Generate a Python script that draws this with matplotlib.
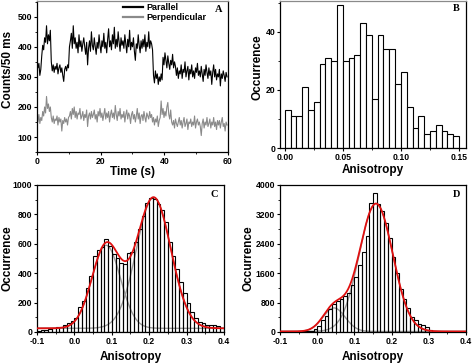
import numpy as np
import matplotlib
matplotlib.use("Agg")
import matplotlib.pyplot as plt
from matplotlib.ticker import MultipleLocator

plt.rcParams['font.family'] = ['Liberation Sans', 'DejaVu Sans']
plt.rcParams['font.weight'] = 'bold'

# ---- panel A: intensity traces (0.3 s samples) ----
parallel = [
    350, 330, 345, 305, 325, 370, 405, 390, 430, 415,
    470, 410, 440, 420, 455, 350, 320, 340, 315, 335,
    325, 345, 310, 330, 340, 315, 330, 305, 285, 325,
    335, 320, 340, 330, 400, 420, 445, 395, 470, 410,
    430, 395, 415, 380, 440, 400, 420, 385, 410, 430,
    400, 375, 415, 340, 395, 420, 385, 450, 405, 390,
    430, 400, 375, 415, 395, 440, 405, 380, 420, 400,
    445, 395, 415, 380, 425, 460, 400, 420, 390, 440,
    410, 465, 395, 425, 400, 450, 415, 385, 430, 405,
    420, 395, 440, 410, 380, 425, 400, 455, 390, 415,
    400, 430, 385, 355, 410, 395, 440, 405, 380, 420,
    395, 425, 400, 440, 385, 415, 400, 450, 395, 420,
    410, 390, 305, 280, 320, 295, 310, 275, 300, 285,
    310, 290, 365, 340, 380, 355, 330, 370, 345, 325,
    355, 340, 375, 330, 350, 335, 305, 330, 295, 320,
    310, 340, 295, 325, 315, 350, 300, 320, 335, 290,
    325, 310, 340, 300, 320, 295, 330, 315, 345, 305,
    320, 300, 335, 310, 285, 325, 305, 340, 315, 295,
    330, 305, 320, 275, 315, 340, 300, 325, 290, 310,
    300, 325, 270, 310, 295, 320, 305, 285, 315, 300,
]
perpendicular = [
    160, 150, 175, 145, 165, 155, 185, 170, 200, 180,
    235, 195, 210, 185, 200, 165, 150, 170, 145, 160,
    155, 170, 140, 165, 150, 160, 120, 155, 145, 165,
    150, 160, 140, 165, 170, 185, 160, 195, 175, 200,
    165, 185, 160, 180, 175, 195, 160, 170, 185, 155,
    175, 165, 190, 135, 170, 180, 160, 185, 165, 175,
    190, 160, 175, 150, 185, 170, 195, 165, 180, 155,
    175, 195, 160, 180, 165, 185, 150, 175, 190, 165,
    180, 160, 205, 175, 155, 185, 170, 195, 160, 175,
    165, 185, 150, 175, 190, 160, 180, 170, 145, 175,
    185, 160, 175, 150, 170, 195, 160, 180, 145, 170,
    175, 155, 185, 165, 150, 180, 170, 160, 185, 165,
    175, 150, 165, 140, 160, 150, 170, 135, 155, 165,
    220, 175, 195, 165, 185, 170, 200, 215, 175, 160,
    190, 150, 140, 155, 130, 160, 145, 135, 150, 165,
    140, 155, 130, 150, 165, 135, 145, 160, 125, 150,
    145, 160, 135, 150, 140, 170, 130, 150, 160, 140,
    150, 135, 105, 145, 160, 130, 150, 140, 165, 135,
    145, 160, 130, 150, 140, 165, 135, 150, 125, 155,
    140, 155, 130, 150, 165, 135, 145, 120, 150, 140,
]
time_s = np.arange(len(parallel)) * 0.3

# ---- panel B: anisotropy histogram (bin width 0.005 from 0) ----
b_counts = [13, 11, 11, 21, 13, 16, 29, 31, 30, 49,
            30, 31, 32, 43, 39, 17, 39, 34, 34, 22,
            26, 14, 7, 11, 5, 6, 8, 6, 5, 4]
b_width = 0.005

# ---- panel C: anisotropy histogram (bin width 0.01 from -0.1) ----
c_counts = [8, 12, 15, 20, 28, 33, 36, 45, 62, 72,
            95, 170, 210, 300, 380, 515, 555, 580, 635, 585,
            530, 500, 470, 460, 540, 545, 610, 700, 790, 880,
            910, 905, 870, 830, 750, 610, 520, 430, 340, 265,
            195, 135, 95, 70, 58, 50, 45, 45, 40, 28]
# gaussian fit: baseline, (amplitude, centre, sigma) per component
c_base = 25
c_peaks = [(565, 0.085, 0.038), (890, 0.212, 0.046)]

# ---- panel D ----
d_counts = [5, 5, 8, 10, 12, 15, 18, 22, 30, 70,
            160, 320, 430, 630, 770, 850, 900, 990, 1060, 1270,
            1500, 1820, 2180, 2620, 3500, 3770, 3470, 3300, 2960, 2560,
            2040, 1600, 1180, 900, 660, 420, 320, 230, 190, 130,
            60, 40, 20, 10, 8, 5, 5, 3, 3, 2]
d_base = 15
d_peaks = [(640, 0.045, 0.030), (3480, 0.158, 0.045)]
cd_width = 0.01
cd_start = -0.1

fig = plt.figure(figsize=(4.74, 3.63), dpi=100)
axA = fig.add_axes([0.078, 0.581, 0.403, 0.416])
axB = fig.add_axes([0.591, 0.592, 0.392, 0.405])
axC = fig.add_axes([0.078, 0.0854, 0.3945, 0.405])
axD = fig.add_axes([0.591, 0.0854, 0.392, 0.405])

tick_fs = 6.2
lab_fs = 8.5
letter_font = dict(family='Liberation Serif', weight='bold', size=7.5)


def style(ax):
    for s in ax.spines.values():
        s.set_linewidth(0.9)
    ax.tick_params(which='major', direction='out', length=2.5, width=0.8,
                   labelsize=tick_fs, pad=1)
    ax.tick_params(which='minor', direction='out', length=1.5, width=0.6)
    for t in ax.get_xticklabels() + ax.get_yticklabels():
        t.set_fontweight('bold')


# A
axA.plot(time_s, parallel, color='black', lw=0.8, label='Parallel')
axA.plot(time_s, perpendicular, color='#8a8a8a', lw=0.8, label='Perpendicular')
axA.set_xlim(0, 60)
axA.set_ylim(50, 552)
axA.xaxis.set_major_locator(MultipleLocator(20))
axA.xaxis.set_minor_locator(MultipleLocator(10))
axA.yaxis.set_major_locator(MultipleLocator(100))
axA.yaxis.set_minor_locator(MultipleLocator(50))
axA.set_xlabel('Time (s)', fontsize=lab_fs, fontweight='bold')
axA.set_ylabel('Counts/50 ms', fontsize=lab_fs, fontweight='bold')
axA.xaxis.set_label_coords(0.5, -0.095)
axA.yaxis.set_label_coords(-0.12, 0.55)
leg = axA.legend(loc='upper right', bbox_to_anchor=(0.92, 1.03), frameon=False,
                 fontsize=6.5, handlelength=2.2, handletextpad=0.4,
                 labelspacing=0.15, borderpad=0.2)
for t in leg.get_texts():
    t.set_fontweight('bold')
for h in leg.get_lines():
    h.set_linewidth(1.6)
axA.text(0.93, 0.93, 'A', transform=axA.transAxes, **letter_font)
axA.spines['top'].set_color('#8a8a8a')
axA.spines['top'].set_linewidth(2)
style(axA)

# B
b_edges = np.arange(len(b_counts)) * b_width
axB.bar(b_edges, b_counts, width=b_width, align='edge', color='white',
        edgecolor='black', linewidth=0.8)
axB.set_xlim(-0.004, 0.156)
axB.set_ylim(0, 50.5)
axB.xaxis.set_major_locator(MultipleLocator(0.05))
axB.xaxis.set_minor_locator(MultipleLocator(0.025))
axB.yaxis.set_major_locator(MultipleLocator(20))
axB.yaxis.set_minor_locator(MultipleLocator(10))
axB.set_xticks([0, 0.05, 0.10, 0.15])
axB.set_xticklabels(['0.00', '0.05', '0.10', '0.15'])
axB.set_xlabel('Anisotropy', fontsize=lab_fs, fontweight='bold')
axB.set_ylabel('Occurrence', fontsize=lab_fs, fontweight='bold')
axB.xaxis.set_label_coords(0.5, -0.108)
axB.yaxis.set_label_coords(-0.091, 0.55)
axB.text(0.93, 0.93, 'B', transform=axB.transAxes, **letter_font)
axB.spines['top'].set_color('#8a8a8a')
axB.spines['top'].set_linewidth(2)
style(axB)


def hist_fit(ax, counts, base, peaks, ymax, ystep, letter, ylab_x):
    edges = cd_start + np.arange(len(counts)) * cd_width
    xs = np.linspace(-0.1, 0.4, 400)
    comps = [a * np.exp(-(xs - m) ** 2 / (2 * s ** 2)) for a, m, s in peaks]
    for c in comps:
        ax.plot(xs, base + c, color='#9a9a9a', lw=1.0, zorder=1)
    ax.bar(edges, counts, width=cd_width, align='edge', fill=False,
           edgecolor='black', linewidth=0.8, zorder=2)
    ax.plot(xs, base + sum(comps), color='#e01010', lw=1.3, zorder=3)
    ax.set_xlim(-0.1, 0.4)
    ax.set_ylim(0, ymax)
    ax.xaxis.set_major_locator(MultipleLocator(0.1))
    ax.xaxis.set_minor_locator(MultipleLocator(0.05))
    ax.yaxis.set_major_locator(MultipleLocator(ystep))
    ax.yaxis.set_minor_locator(MultipleLocator(ystep / 2))
    ax.set_xticks([-0.1, 0.0, 0.1, 0.2, 0.3, 0.4])
    ax.set_xticklabels(['-0.1', '0.0', '0.1', '0.2', '0.3', '0.4'])
    ax.set_xlabel('Anisotropy', fontsize=lab_fs, fontweight='bold')
    ax.set_ylabel('Occurrence', fontsize=lab_fs, fontweight='bold')
    ax.xaxis.set_label_coords(0.5, -0.128)
    ax.yaxis.set_label_coords(ylab_x, 0.5)
    ax.text(0.93, 0.92, letter, transform=ax.transAxes, **letter_font)
    style(ax)


hist_fit(axC, c_counts, c_base, c_peaks, 1000, 200, 'C', -0.123)
hist_fit(axD, d_counts, d_base, d_peaks, 4000, 800, 'D', -0.14)

fig.savefig('out.png', dpi=100)
